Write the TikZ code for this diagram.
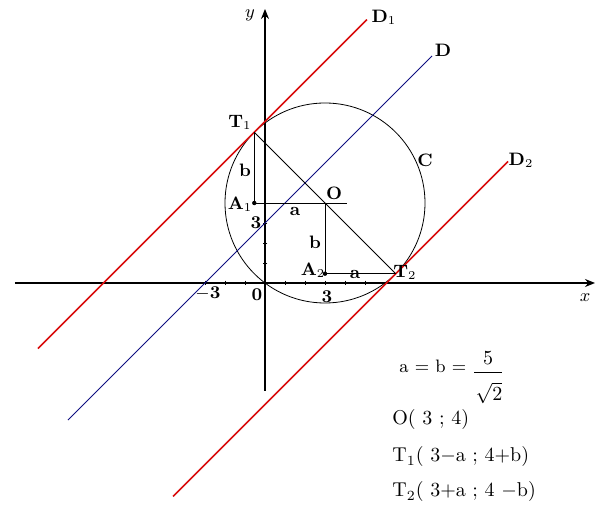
\documentclass[tikz,border=0pt]{standalone}
\usetikzlibrary{arrows.meta}
\definecolor{redline}{rgb}{0.85,0.05,0.05}
\definecolor{navyline}{rgb}{0.05,0.05,0.5}
\begin{document}
\begin{tikzpicture}[x=10pt,y=10pt,
  lbl/.style={inner sep=1pt,font=\small\bfseries},
  formula/.style={anchor=west,inner sep=0pt},
  thinline/.style={draw=black,line width=0.4pt},
  tangent/.style={draw=redline,line width=0.8pt},
  mainline/.style={draw=navyline,line width=0.5pt},
  axis/.style={draw=black,line width=0.7pt,-{Stealth[length=5pt,width=4pt]}},
  dot/.style={circle,fill=black,inner sep=0pt,minimum size=2.2pt}]
\useasboundingbox (-13.25,-11.5) rectangle (17.25,14.15);
% axes
\coordinate (xs) at (-12.5,0);
\coordinate (xe) at (16.5,0);
\coordinate (ys) at (0,-5.4);
\coordinate (ye) at (0,13.7);
\draw[axis] (xs) -- (xe);
\draw[axis] (ys) -- (ye);
\foreach \i in {-3,-2,-1,1,2,3,4,5} \draw[thinline] (\i,0.12) -- (\i,-0.12);
\foreach \i in {1,2,3} \draw[thinline] (0.12,\i) -- (-0.12,\i);
% points
\coordinate (O) at (3,4);
\coordinate (T1) at (-0.5355,7.5355);
\coordinate (T2) at (6.5355,0.4645);
\coordinate (A1) at (T1 |- O);
\coordinate (A2) at (O |- T2);
\coordinate (Oe) at (4.1,4);
% circle
\draw[thinline] (O) circle (5);
% lines
\coordinate (D1s) at (-11.35,-3.28);
\coordinate (D1e) at (5.1,13.17);
\coordinate (Ds) at (-9.85,-6.85);
\coordinate (De) at (8.35,11.35);
\coordinate (D2s) at (-4.6,-10.67);
\coordinate (D2e) at (12.15,6.08);
\draw[tangent] (D1s) -- (D1e);
\draw[mainline] (Ds) -- (De);
\draw[tangent] (D2s) -- (D2e);
% construction
\draw[thinline] (T1) -- (T2);
\draw[thinline] (T1) -- (A1) -- (Oe);
\draw[thinline] (O) -- (A2) -- (T2);
\node[dot] (a1dot) at (A1) {};
\node[dot] (a2dot) at (A2) {};
% labels
\node[lbl] (ly) at (-0.75,13.4) {$y$};
\node[lbl] (lx) at (16,-0.75) {$x$};
\node[lbl] (lD1) at (5.95,13.3) {D$_1$};
\node[lbl] (lD) at (8.9,11.65) {D};
\node[lbl] (lC) at (8.0,6.15) {C};
\node[lbl] (lD2) at (12.8,6.15) {D$_2$};
\node[lbl] (lT1) at (-1.25,8.05) {T$_1$};
\node[lbl] (lT2) at (7.0,0.55) {T$_2$};
\node[lbl] (lO) at (3.45,4.5) {O};
\node[lbl] (lA1) at (-1.25,3.95) {A$_1$};
\node[lbl] (lA2) at (2.4,0.65) {A$_2$};
\node[lbl] (la1) at (1.5,3.6) {a};
\node[lbl] (la2) at (4.5,0.45) {a};
\node[lbl] (lb1) at (-1.0,5.65) {b};
\node[lbl] (lb2) at (2.5,2.05) {b};
\node[lbl] (l3y) at (-0.45,3.0) {3};
\node[lbl] (l3x) at (3.1,-0.7) {3};
\node[lbl] (lm3) at (-2.85,-0.5) {$-$3};
\node[lbl] (l0) at (-0.4,-0.6) {0};
% formulas
\node[formula,font=\small] (f1) at (6.7,-4.15) {a = b =};
\node[inner sep=0pt] (num) at (11.15,-3.75) {5};
\coordinate (barl) at (10.45,-4.5);
\coordinate (barr) at (11.85,-4.5);
\draw[line width=0.5pt] (barl) -- (barr);
\node[inner sep=0pt] (den) at (11.2,-5.5) {$\sqrt{2}$};
\node[formula] (f2) at (6.35,-6.85) {O( 3 ; 4)};
\node[formula] (f3) at (6.35,-8.7) {T$_1$( 3$-$a ; 4$+$b)};
\node[formula] (f4) at (6.35,-10.45) {T$_2$( 3$+$a ; 4 $-$b)};
\end{tikzpicture}
\end{document}
